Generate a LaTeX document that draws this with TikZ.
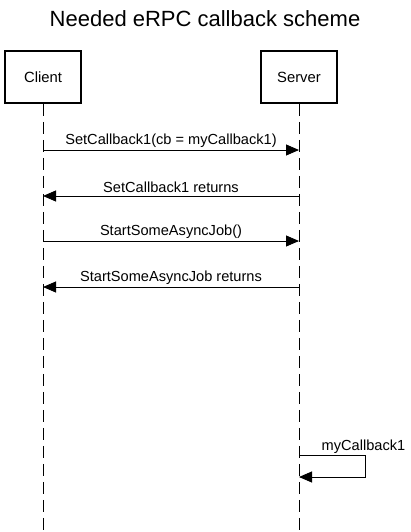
\documentclass[tikz,border=0pt]{standalone}
\usepackage{fontspec}
\setmainfont{Liberation Sans}
\usetikzlibrary{positioning,arrows.meta,calc}

\begin{document}
\begin{tikzpicture}[x=1pt,y=-1pt,
    actor/.style={draw, line width=1.6pt, minimum width=76pt, minimum height=52pt, inner sep=0pt, font=\fontsize{14.8}{17}\selectfont},
    lifeline/.style={line width=0.9pt, dash pattern=on 12pt off 6pt},
    msg/.style={-{Triangle[length=13pt,width=11pt]}, line width=0.9pt},
    lbl/.style={font=\fontsize{14.6}{17}\selectfont, inner sep=2.5pt}]
        \useasboundingbox (0,0) rectangle (410,532);
        \node [font=\fontsize{22}{26}\selectfont] (title) at (205,19) {Needed eRPC callback scheme};
        \node [actor] (client) at (43,77) {Client};
        \node [actor] (server) at (299,77) {Server};
        \coordinate (cEnd) at (43,532);
        \coordinate (sEnd) at (299,532);
        \draw [lifeline] (client) -- (cEnd);
        \draw [lifeline] (server) -- (sEnd);
        % messages
        \coordinate (c1) at (43,150);  \coordinate (s1) at (299,150);
        \coordinate (c2) at (43,196);  \coordinate (s2) at (299,196);
        \coordinate (c3) at (43,241);  \coordinate (s3) at (299,241);
        \coordinate (c4) at (43,287);  \coordinate (s4) at (299,287);
        \draw [msg] (c1) -- (s1) node [lbl, midway, above] (setCb) {SetCallback1(cb = myCallback1)};
        \draw [msg] (s2) -- (c2) node [lbl, midway, above] (setCbRet) {SetCallback1 returns};
        \draw [msg] (c3) -- (s3) node [lbl, midway, above] (startJob) {StartSomeAsyncJob()};
        \draw [msg] (s4) -- (c4) node [lbl, midway, above] (startJobRet) {StartSomeAsyncJob returns};
        % callback to itself
        \coordinate (s5) at (299,455);
        \coordinate (loopA) at (365,455);
        \coordinate (loopB) at (365,477);
        \coordinate (s6) at (299,477);
        \draw [msg] (s5) -- (loopA) -- (loopB) -- (s6);
        \node [lbl, anchor=south west] (cbLbl) at (319,456) {myCallback1};
      \end{tikzpicture}
\end{document}
